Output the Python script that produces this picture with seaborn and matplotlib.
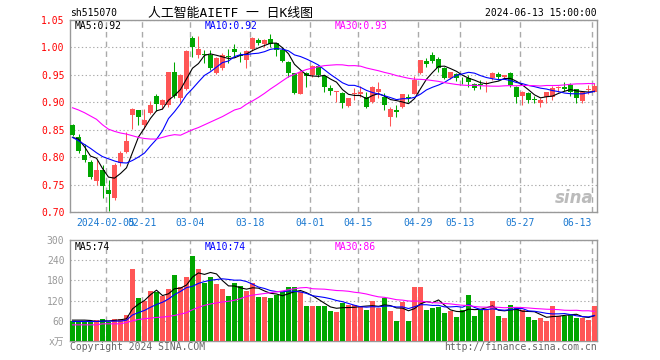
import numpy as np
import pandas as pd
import seaborn as sns
import matplotlib.pyplot as plt

# 88 sessions, 2024-01-26 .. 2024-06-13
opens = [0.859, 0.837, 0.803, 0.792, 0.757, 0.777, 0.740, 0.725, 0.790, 0.8095,
         0.877, 0.886, 0.859, 0.880, 0.9115, 0.895, 0.895, 0.955, 0.907, 0.924,
         1.018, 0.987, 0.987, 0.987, 0.954, 0.962, 0.984, 0.998, 0.986, 0.977,
         0.997, 1.0135, 1.0056, 1.0154, 1.0075, 0.995, 0.974, 0.953, 0.916, 0.953,
         0.950, 0.966, 0.948, 0.9255, 0.919, 0.9176, 0.893, 0.915, 0.916, 0.910,
         0.901, 0.9195, 0.910, 0.874, 0.886, 0.892, 0.909, 0.9145, 0.953, 0.976,
         0.986, 0.979, 0.963, 0.944, 0.951, 0.941, 0.944, 0.933, 0.933, 0.934,
         0.9445, 0.9516, 0.9456, 0.953, 0.9285, 0.9115, 0.9164, 0.905, 0.899, 0.910,
         0.909, 0.9255, 0.9273, 0.9316, 0.9236, 0.903, 0.923, 0.919]
highs = [0.861, 0.842, 0.824, 0.794, 0.795, 0.786, 0.759, 0.789, 0.812, 0.845,
         0.889, 0.886, 0.888, 0.902, 0.915, 0.906, 0.955, 0.973, 0.951, 0.995,
         1.020, 1.021, 0.995, 0.995, 0.983, 0.989, 0.997, 1.006, 0.992, 0.995,
         1.019, 1.018, 1.0154, 1.025, 1.0075, 1.000, 0.975, 0.953, 0.957, 0.956,
         0.968, 0.968, 0.949, 0.9316, 0.920, 0.918, 0.908, 0.926, 0.929, 0.919,
         0.930, 0.937, 0.917, 0.892, 0.895, 0.916, 0.916, 0.948, 0.977, 0.980,
         0.992, 0.983, 0.964, 0.955, 0.953, 0.947, 0.950, 0.936, 0.941, 0.939,
         0.955, 0.956, 0.950, 0.956, 0.929, 0.920, 0.919, 0.911, 0.907, 0.919,
         0.9296, 0.930, 0.9377, 0.9346, 0.9236, 0.9194, 0.9316, 0.936]
lows = [0.838, 0.808, 0.792, 0.760, 0.749, 0.725, 0.701, 0.722, 0.783, 0.807,
        0.851, 0.859, 0.851, 0.879, 0.884, 0.887, 0.891, 0.907, 0.900, 0.922,
        0.983, 0.980, 0.971, 0.959, 0.951, 0.959, 0.971, 0.983, 0.973, 0.963,
        0.994, 1.004, 1.0014, 1.0014, 0.984, 0.973, 0.947, 0.916, 0.916, 0.927,
        0.947, 0.946, 0.919, 0.9133, 0.901, 0.889, 0.891, 0.905, 0.910, 0.889,
        0.899, 0.907, 0.886, 0.856, 0.873, 0.889, 0.901, 0.9145, 0.951, 0.965,
        0.971, 0.956, 0.943, 0.942, 0.938, 0.933, 0.927, 0.9225, 0.924, 0.918,
        0.941, 0.941, 0.942, 0.9285, 0.898, 0.895, 0.899, 0.898, 0.891, 0.899,
        0.904, 0.919, 0.921, 0.9115, 0.899, 0.899, 0.916, 0.919]
closes = [0.841, 0.812, 0.7955, 0.7645, 0.777, 0.748, 0.733, 0.786, 0.807, 0.829,
          0.888, 0.874, 0.868, 0.895, 0.897, 0.904, 0.955, 0.9115, 0.949, 0.9935,
          1.0014, 0.998, 0.986, 0.962, 0.981, 0.987, 0.983, 0.992, 0.985, 0.9935,
          1.018, 1.0075, 1.0135, 1.0056, 0.995, 0.975, 0.953, 0.9176, 0.955, 0.948,
          0.966, 0.950, 0.927, 0.9206, 0.920, 0.898, 0.907, 0.917, 0.919, 0.892,
          0.927, 0.9235, 0.895, 0.887, 0.883, 0.9145, 0.908, 0.941, 0.977, 0.970,
          0.9755, 0.963, 0.944, 0.9547, 0.945, 0.940, 0.9364, 0.9255, 0.932, 0.935,
          0.9535, 0.947, 0.950, 0.9316, 0.909, 0.9194, 0.904, 0.904, 0.904, 0.919,
          0.9255, 0.9285, 0.9236, 0.9194, 0.907, 0.9194, 0.9236, 0.9296]
volumes = [58, 56, 57, 56, 62, 66, 57, 65, 65, 77,
           213, 127, 120, 150, 145, 133, 153, 195, 160, 190,
           252, 214, 173, 189, 168, 153, 135, 172, 162, 148,
           173, 130, 130, 127, 138, 147, 160, 160, 145, 105,
           103, 105, 103, 90, 85, 112, 107, 107, 100, 93,
           118, 97, 128, 90, 58, 115, 58, 160, 160, 93,
           97, 100, 82, 90, 70, 93, 138, 75, 95, 93,
           120, 73, 67, 108, 102, 92, 70, 63, 67, 60,
           103, 75, 75, 77, 67, 67, 63, 103]

# moving averages already running before the first session shown
ma5_head = [0.836, 0.833, 0.819, 0.802]
ma10_head = [0.836, 0.830, 0.823, 0.816, 0.808, 0.801, 0.797, 0.793, 0.790]
ma30_head = [0.890, 0.886, 0.881, 0.875, 0.869, 0.859, 0.851, 0.847, 0.844, 0.842,
             0.839, 0.836, 0.834, 0.833, 0.833, 0.836, 0.839, 0.841, 0.840, 0.845,
             0.850, 0.854, 0.859, 0.864, 0.869, 0.874, 0.880, 0.886, 0.889]
vol_ma5_head = [62, 62, 62, 61]
vol_ma10_head = [58, 58, 58, 58, 58, 59, 59, 59, 59]
vol_ma30_head = [48, 48, 48, 48, 48, 51, 51, 51, 51, 55,
                 60, 64, 66, 68, 70, 71, 73, 76, 80, 84,
                 93, 100, 106, 110, 113, 116, 118, 121, 126]

date_pos = [6, 12, 20, 30, 40, 48, 58, 65, 75, 87]
date_labels = ["2024-02-05", "02-21", "03-04", "03-18", "04-01",
               "04-15", "04-29", "05-13", "05-27", "06-13"]
price_ticks = [0.70, 0.75, 0.80, 0.85, 0.90, 0.95, 1.00, 1.05]
vol_ticks = [0, 60, 120, 180, 240, 300]
vol_tick_labels = ["x万", "60", "120", "180", "240", "300"]
ma_price_text = ["0.92", "0.92", "0.93"]
ma_vol_text = ["74", "74", "86"]

RED = "#ff5656"
GREEN = "#00a600"
MA_COLORS = ["black", "#0000ff", "#ff00ff"]

plt.rcParams["font.family"] = ["DejaVu Sans Mono", "Noto Sans CJK SC"]
plt.rcParams["font.size"] = 7


def moving(values, n, head):
    s = pd.Series(values, dtype=float).rolling(n).mean()
    s.iloc[:len(head)] = head
    return s


df = pd.DataFrame({"open": opens, "high": highs, "low": lows,
                   "close": closes, "volume": volumes})
df["idx"] = np.arange(len(df))
df["dir"] = np.where(df["close"] >= df["open"], "up", "down")
colors = df["dir"].map({"up": RED, "down": GREEN})

fig = plt.figure(figsize=(6.6, 3.6), dpi=100)
ax = fig.add_axes([70 / 660, 148 / 360, 527 / 660, 192 / 360])
axv = fig.add_axes([70 / 660, 19 / 360, 527 / 660, 101 / 360])

# candles
ax.vlines(df["idx"], df["low"], df["high"], colors=colors, lw=0.75, zorder=2)
body = (df["close"] - df["open"]).abs().clip(lower=0.0012)
ax.bar(df["idx"], body, bottom=df[["open", "close"]].min(axis=1),
       width=0.83, color=colors, lw=0, zorder=3)

for n, head, c in zip([5, 10, 30], [ma5_head, ma10_head, ma30_head], MA_COLORS):
    sns.lineplot(x=df["idx"], y=moving(closes, n, head), color=c, lw=0.8,
                 ax=ax, zorder=4)

# volume
sns.barplot(data=df, x="idx", y="volume", hue="dir",
            palette={"up": RED, "down": GREEN}, native_scale=True,
            dodge=False, width=0.83, saturation=1, linewidth=0,
            legend=False, ax=axv, zorder=3)
for n, head, c in zip([5, 10, 30], [vol_ma5_head, vol_ma10_head, vol_ma30_head], MA_COLORS):
    sns.lineplot(x=df["idx"], y=moving(volumes, n, head), color=c, lw=0.8,
                 ax=axv, zorder=4)

grid_x = [p - 0.42 for p in date_pos]
for a in (ax, axv):
    a.set_xlim(-0.4167, 87.417)
    a.set_xticks(grid_x)
    a.set_xlabel("")
    a.set_ylabel("")
    a.tick_params(length=0)
    for s in a.spines.values():
        s.set_color("#999999")
        s.set_linewidth(1)
    a.grid(axis="y", color="#aaaaaa", linestyle=(0, (1.2, 2.2)), lw=0.8)
    a.grid(axis="x", color="#aaaaaa", linestyle=(0, (4, 3)), lw=1.0)
    a.set_axisbelow(True)

ax.set_ylim(0.70, 1.05)
ax.set_yticks(price_ticks, [f"{t:.2f}" for t in price_ticks], color="#ff0000")
ax.set_xticklabels(date_labels, color="#1a78d0")
ax.tick_params(axis="x", pad=4)
ax.tick_params(axis="y", pad=4)
ax.get_xticklabels()[-1].set_horizontalalignment("right")

axv.set_ylim(0, 300)
axv.set_yticks(vol_ticks, vol_tick_labels, color="#999999")
axv.set_xticklabels([])
axv.tick_params(axis="y", pad=4)


def px(x, y):
    return x / 660, 1 - y / 360


fig.text(*px(70, 13), "sh515070", va="center", ha="left")
fig.text(*px(230, 13), "人工智能AIETF 一 日K线图", va="center", ha="center",
         fontsize=9.3)
fig.text(*px(597, 13), "2024-06-13 15:00:00", va="center", ha="right")

for x0, name, val, c in zip([75, 205, 335], ["MA5", "MA10", "MA30"], ma_price_text, MA_COLORS):
    fig.text(*px(x0, 26), f"{name}:{val}", color=c, va="center", ha="left")
for x0, name, val, c in zip([75, 205, 335], ["MA5", "MA10", "MA30"], ma_vol_text, MA_COLORS):
    fig.text(*px(x0, 246.5), f"{name}:{val}", color=c, va="center", ha="left")

fig.text(*px(70, 347), "Copyright 2024 SINA.COM", color="#666666", va="center", ha="left")
fig.text(*px(597, 347), "http://finance.sina.com.cn", color="#666666", va="center", ha="right")
fig.text(*px(594, 198), "sina", color="#bbbbbb", fontsize=12, fontstyle="italic",
         fontweight="bold", family="DejaVu Sans", va="center", ha="right")

fig.savefig("out.png", dpi=100)
